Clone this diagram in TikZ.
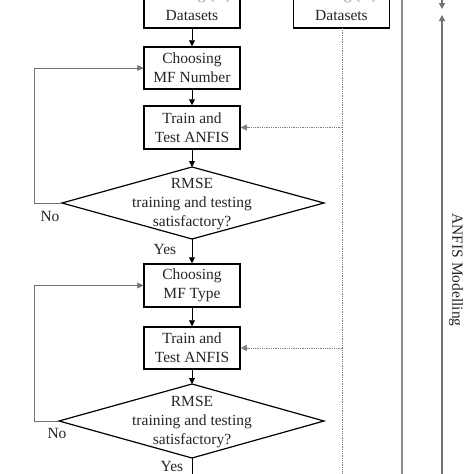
\documentclass[tikz,border=0pt]{standalone}
\usepackage{fontspec}
\setmainfont{Liberation Serif}
\usetikzlibrary{arrows.meta}
\newcommand{\fsz}{\fontsize{15.5}{19.2}\selectfont}
\begin{document}
\begin{tikzpicture}[x=1pt,y=-1pt,
  box/.style={draw, line width=1.5pt, minimum width=96pt, minimum height=42pt, inner sep=0pt, align=center, font=\fsz, text=black!85},
  arr/.style={-{Triangle[length=6pt,width=6pt]}, line width=0.8pt},
  fb/.style={draw=black!55, line width=0.9pt},
  dotl/.style={densely dotted, draw=black!50, line width=0.8pt},
  dsh/.style={line width=1.2pt},
  lbl/.style={font=\fsz, text=black!85, inner sep=0pt},
  side/.style={draw=black!45, line width=1.2pt}]
\clip (0,0) rectangle (474,474);
\fill[white] (0,0) rectangle (474,474);
% top boxes
\node[box] (train) at (192,7) {};
\node[lbl, text=black!40] (train1) at (192,-4) {Training (X)};
\node[lbl] (train2) at (192,15.5) {Datasets};
\node[box, line width=1.1pt] (test) at (341.5,7) {};
\node[lbl, text=black!40] (test1) at (341.5,-4) {Testing (Y)};
\node[lbl] (test2) at (341.5,15.5) {Datasets};
% first loop
\node[box] (mfn) at (192,68) {Choosing\\MF Number};
\node[box, minimum height=43pt] (ta1) at (192,127.5) {Train and\\Test ANFIS};
\coordinate (d1t) at (192,167);
\coordinate (d1r) at (324,203);
\coordinate (d1b) at (192,239);
\coordinate (d1l) at (62,203);
\draw[dsh] (d1t) -- (d1r) -- (d1b) -- (d1l) -- cycle;
\node[lbl, align=center] (q1) at (192,204) {RMSE\\training and testing\\satisfactory?};
% second loop
\node[box, minimum height=43pt] (mft) at (192,285.5) {Choosing\\MF Type};
\node[box] (ta2) at (192,348) {Train and\\Test ANFIS};
\coordinate (d2t) at (192,384);
\coordinate (d2r) at (324,421);
\coordinate (d2b) at (192,458);
\coordinate (d2l) at (59,421);
\draw[dsh] (d2t) -- (d2r) -- (d2b) -- (d2l) -- cycle;
\node[lbl, align=center] (q2) at (192,422) {RMSE\\training and testing\\satisfactory?};
\coordinate (endp) at (192,480);
% main arrows
\draw[arr] (train.south) -- (mfn.north);
\draw[arr] (mfn.south) -- (ta1.north);
\draw[arr] (ta1.south) -- (d1t);
\draw[arr] (d1b) -- (mft.north);
\draw[arr] (mft.south) -- (ta2.north);
\draw[arr] (ta2.south) -- (d2t);
\draw[arr] (d2b) -- (endp);
% feedback loops
\coordinate (c1) at (34,203);
\coordinate (c2) at (34,421);
\draw[fb] (d1l) -- (c1) |- (mfn.west);
\draw[fb, -{Triangle[length=6pt,width=6pt]}] (c1 |- mfn.west) ++(80,0) -- (mfn.west);
\draw[fb] (d2l) -- (c2) |- (mft.west);
\draw[fb, -{Triangle[length=6pt,width=6pt]}] (c2 |- mft.west) ++(80,0) -- (mft.west);
% labels
\node[lbl] (no1) at (50,216) {No};
\node[lbl] (yes1) at (165,249) {Yes};
\node[lbl] (no2) at (57,433) {No};
\node[lbl] (yes2) at (172,466) {Yes};
% testing dotted
\coordinate (tb) at (342,28);
\coordinate (te) at (342,480);
\draw[dotl] (tb) -- (te);
\draw[dotl, -{Triangle[length=6pt,width=6pt]}] (342,127.5) -- (ta1.east);
\draw[dotl, -{Triangle[length=6pt,width=6pt]}] (342,348) -- (ta2.east);
% side lines
\coordinate (s1t) at (402,-5);
\coordinate (s1b) at (402,480);
\draw[side] (s1t) -- (s1b);
\coordinate (s2t) at (442,-5);
\coordinate (s2a) at (442,9);
\coordinate (s2c) at (442,15);
\coordinate (s2b) at (442,480);
\draw[side, draw=black!55, -{Triangle[length=6pt,width=6pt]}] (s2t) -- (s2a);
\draw[side, draw=black!55, -{Triangle[length=6pt,width=6pt]}] (s2b) -- (s2c);
\node[lbl, rotate=-90] (anfis) at (456,270) {ANFIS Modelling};
\end{tikzpicture}
\end{document}
